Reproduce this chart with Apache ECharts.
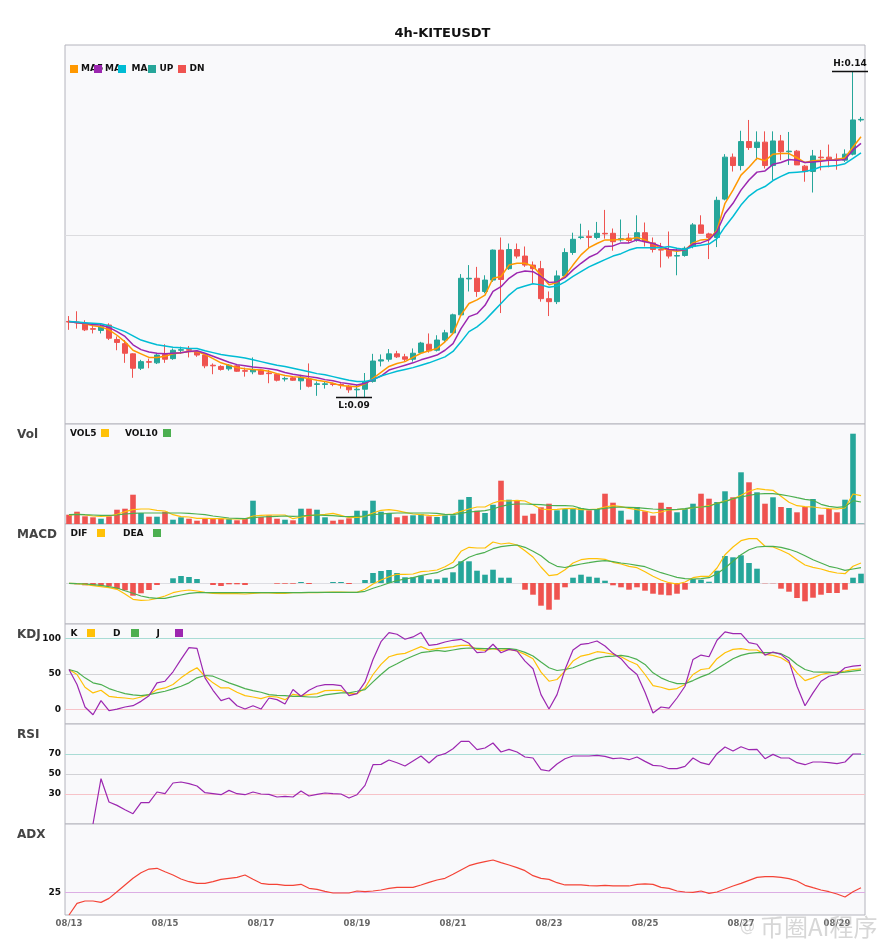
<!DOCTYPE html>
<html>
<head>
<meta charset="utf-8">
<title>4h-KITEUSDT</title>
<script src="https://cdn.jsdelivr.net/npm/echarts@6.0.0/dist/echarts.min.js"></script>
<style>
html, body { margin: 0; padding: 0; background: #fff; }
#chart { width: 885px; height: 950px; }
</style>
</head>
<body>
<div id="chart"></div>
<script>
// 4h candles, 08/13 00:00 -> 08/29 12:00
var days = ['08/13','08/14','08/15','08/16','08/17','08/18','08/19','08/20','08/21','08/22','08/23','08/24','08/25','08/26','08/27','08/28','08/29'];
var hours = ['00:00','04:00','08:00','12:00','16:00','20:00'];
var candleCount = 100;

var opens = [.1056,.1055,.1052,.1044,.1041,.1050,.1026,.1019,.1002,.0978,
  .0989,.0987,.1001,.0994,.1008,.1009,.1006,.1000,.0983,.0981,
  .0977,.0982,.0974,.0972,.0975,.0970,.0968,.0960,.0962,.0957,
  .0960,.0951,.0951,.0952,.0951,.0948,.0942,.0943,.0956,.0990,
  .0993,.1002,.0997,.0993,.1004,.1018,.1008,.1025,.1037,.1067,
  .1127,.1128,.1106,.1125,.1175,.1144,.1176,.1165,.1150,.1144,
  .1094,.1089,.1132,.1171,.1196,.1198,.1196,.1203,.1203,.1192,
  .1195,.1192,.1204,.1187,.1176,.1176,.1165,.1166,.1181,.1217,
  .1202,.1196,.1260,.1330,.1316,.1356,.1346,.1355,.1316,.1357,
  .1339,.1340,.1315,.1306,.1330,.1330,.1327,.1325,.1335,.1392];
var closes = [.1055,.1054,.1042,.1043,.1047,.1028,.1021,.1003,.0978,.0989,
  .0988,.1000,.0993,.1008,.1009,.1008,.1000,.0982,.0982,.0976,
  .0983,.0973,.0973,.0976,.0968,.0969,.0958,.0961,.0958,.0963,
  .0948,.0952,.0952,.0951,.0950,.0942,.0943,.0956,.0990,.0992,
  .1002,.0997,.0993,.1003,.1020,.1007,.1025,.1037,.1067,.1128,
  .1128,.1106,.1125,.1175,.1126,.1176,.1165,.1150,.1144,.1094,
  .1089,.1132,.1171,.1193,.1197,.1196,.1203,.1202,.1189,.1194,
  .1191,.1204,.1189,.1176,.1175,.1165,.1166,.1178,.1217,.1203,
  .1196,.1258,.1330,.1316,.1356,.1346,.1355,.1316,.1357,.1339,
  .1340,.1317,.1306,.1332,.1329,.1325,.1326,.1335,.1392,.1393];
var lows = [.1042,.1044,.1040,.1036,.1036,.1025,.1008,.0987,.0962,.0975,
  .0978,.0985,.0987,.0992,.1002,.0996,.0997,.0978,.0968,.0974,
  .0974,.0972,.0964,.0968,.0967,.0953,.0956,.0956,.0957,.0942,
  .0946,.0932,.0944,.0948,.0944,.0937,.0929,.0930,.0954,.0981,
  .0989,.0995,.0989,.0989,.1003,.1004,.1006,.1022,.1036,.1065,
  .1106,.1097,.1103,.1122,.1070,.1142,.1161,.1147,.1119,.1089,
  .1065,.1085,.1129,.1167,.1193,.1178,.1193,.1194,.1174,.1189,
  .1187,.1189,.1181,.1171,.1146,.1161,.1133,.1164,.1178,.1203,
  .1160,.1180,.1258,.1306,.1308,.1342,.1325,.1311,.1292,.1325,
  .1317,.1317,.1289,.1271,.1308,.1313,.1309,.1322,.1333,.1389];
var highs = [.1065,.1073,.1058,.1050,.1052,.1053,.1031,.1025,.1003,.0992,
  .0994,.1003,.1018,.1011,.1014,.1015,.1008,.1001,.0986,.0983,
  .0985,.0983,.0979,.0996,.0976,.0975,.0969,.0964,.0964,.0967,
  .0986,.0956,.0956,.0954,.0953,.0950,.0950,.0970,.1002,.1001,
  .1010,.1007,.1002,.1011,.1022,.1036,.1033,.1042,.1069,.1135,
  .1150,.1147,.1133,.1176,.1196,.1186,.1186,.1181,.1156,.1157,
  .1106,.1141,.1178,.1204,.1219,.1208,.1222,.1242,.1211,.1226,
  .1203,.1233,.1221,.1196,.1187,.1206,.1178,.1181,.1220,.1233,
  .1204,.1264,.1335,.1336,.1374,.1392,.1373,.1373,.1373,.1367,
  .1372,.1342,.1317,.1342,.1342,.1351,.1336,.1343,.1473,.1397];

var ma5 = [.1056,.1054,.1052,.1049,.1047,.1042,.1033,.1022,.1008,.1002,
  .0996,.0996,.0998,.1002,.1004,.1006,.1006,.1001,.0994,.0987,
  .0983,.0979,.0977,.0976,.0975,.0973,.0969,.0966,.0964,.0963,
  .0961,.0958,.0956,.0953,.0949,.0948,.0947,.0952,.0961,.0971,
  .0981,.0986,.0989,.0996,.1003,.1007,.1011,.1022,.1036,.1067,
  .1086,.1092,.1100,.1128,.1131,.1150,.1153,.1153,.1148,.1133,
  .1117,.1121,.1132,.1150,.1167,.1179,.1186,.1192,.1192,.1193,
  .1193,.1196,.1192,.1185,.1178,.1175,.1173,.1175,.1187,.1192,
  .1193,.1208,.1253,.1275,.1300,.1313,.1328,.1324,.1335,.1336,
  .1336,.1329,.1321,.1324,.1325,.1325,.1326,.1329,.1347,.1364];
var ma10 = [.1056,.1054,.1053,.1051,.1050,.1046,.1039,.1031,.1017,.1009,
  .1005,.1003,.1002,.1003,.1004,.1006,.1007,.1003,.0998,.0993,
  .0988,.0984,.0982,.0980,.0979,.0977,.0975,.0971,.0968,.0966,
  .0964,.0962,.0959,.0957,.0954,.0952,.0950,.0953,.0959,.0965,
  .0975,.0979,.0983,.0987,.0992,.0996,.1000,.1008,.1019,.1044,
  .1064,.1069,.1083,.1106,.1114,.1128,.1137,.1140,.1139,.1131,
  .1121,.1122,.1129,.1142,.1153,.1163,.1169,.1181,.1182,.1187,
  .1187,.1192,.1189,.1186,.1181,.1176,.1175,.1175,.1185,.1187,
  .1192,.1206,.1236,.1253,.1275,.1292,.1305,.1307,.1318,.1321,
  .1326,.1325,.1321,.1322,.1323,.1325,.1325,.1326,.1342,.1353];
var ma20 = [.1056,.1055,.1054,.1053,.1052,.1049,.1044,.1039,.1032,.1025,
  .1021,.1017,.1015,.1013,.1012,.1011,.1011,.1007,.1004,.1001,
  .0999,.0997,.0995,.0992,.0989,.0986,.0983,.0981,.0978,.0975,
  .0972,.0969,.0967,.0964,.0961,.0958,.0956,.0956,.0959,.0965,
  .0969,.0973,.0976,.0979,.0983,.0987,.0992,.0997,.1006,.1022,
  .1039,.1047,.1058,.1072,.1086,.1100,.1111,.1115,.1119,.1117,
  .1113,.1115,.1122,.1131,.1139,.1147,.1153,.1159,.1165,.1169,
  .1175,.1179,.1179,.1179,.1179,.1181,.1178,.1176,.1181,.1183,
  .1185,.1194,.1214,.1231,.1250,.1265,.1275,.1281,.1291,.1298,
  .1304,.1305,.1306,.1309,.1314,.1315,.1316,.1319,.1328,.1337];

// volume (arbitrary units)
var vol = [9.3,12.3,7.7,6.7,5.3,7.7,14.3,15.3,29.3,11,
  7.3,7.3,12.3,4.3,6.7,5.3,3.3,5.7,5.3,5.3,
  5,3.7,5,23.3,7,8.7,5.3,4.3,3.7,15.3,
  15.3,14.3,6.7,3.3,4.3,5.7,13.3,13.3,23.3,12.3,
  11,6.7,8.3,8.7,10,7.7,7,8.7,8.7,24.3,
  27,13.3,11,19.3,43.3,24.3,23.7,8.3,10.3,16.7,
  20.3,13.7,15,16,16,13.7,15,30.3,21.3,13.3,
  4.3,17,12.7,8.3,21.3,17,11.7,15,20.3,30.3,
  25.3,22,32.7,26.7,51.7,41.7,31.7,20.3,26.7,17,
  16,11.7,17,25,9.3,15,11.7,24.3,90.3,0.3];
var vol5 = [8.7,10,9,8,7.7,8,9.7,12.3,14.3,15,
  15,13.7,13,9.3,7.3,7,5.7,5.7,5.3,5.3,
  5,5,5,8,8.7,9,9,9,5.3,7,
  8.3,9,9.7,10.7,8.7,6.3,6.7,7.7,11,13.7,
  14.3,13.3,11.7,10,9.3,8.7,8.3,9.3,10,12.7,
  15,17,17,21,23.3,23,23.7,23,19.3,15,
  14.3,14.7,15.3,15.7,14.3,14.3,15,17,18.3,17.3,
  15.7,14.3,13,11,12,14,14.3,15,16.3,17,
  18.3,20.7,23,25,28.7,32.7,35.3,34.3,33.7,27.7,
  21.7,18.3,17.3,17,16,15.3,15,16,30,28.3];
var vol10 = [9.3,9.7,9.3,9,8.7,8.7,9,10,10.7,11,
  11,11,11,11,11,10.7,10,9.3,8,7,
  6,5.7,5.3,6.3,7,7.3,7.7,8,7.7,8,
  8.7,9,8.7,8.3,7.7,7.3,7.7,8,9.3,10,
  10.7,11,11,11,11,11,10.7,9.7,9.3,10.7,
  12,12.7,13.3,15,17.7,19.3,20,20,19.7,19.3,
  18.7,18.3,18.3,18,15.7,14.3,14.7,15.7,16.7,17,
  16.7,16.3,15.7,15,14.7,14.3,14.7,15.3,16.7,17,
  17.7,20.7,22.3,25.3,27,28.7,30,30.3,30.3,29.3,
  28,26.3,24.7,23.7,19.7,17.7,16.7,17.3,23.3,22];

// MACD values in units of 1e-4 USDT
var dif = [-0.3,-0.7,-1.3,-2.7,-3.7,-4.7,-6.3,-11,-16.3,-17.3,
  -17,-15.3,-13,-9.7,-8,-7,-8,-9.3,-10.3,-10.7,
  -10.7,-10.7,-11,-10.3,-10,-10,-10.3,-10.3,-9.7,-9.7,
  -9.7,-9.7,-9.3,-9,-9,-9.3,-9.3,-6.3,-1,3,
  6.3,8.7,8.7,9,11.3,12,13,16.3,20.7,31.7,
  35.7,35,35,41,39,40,38,32.3,26,16,
  7.3,8.3,13.3,20,23.3,24.3,24.3,23.7,20.7,19,
  16.7,15.3,11.3,6.7,3,0.3,-1,1,5.3,6.7,
  6.7,15,28.3,36,42.3,44.3,44.3,36.7,36,32.7,
  29,23.3,18,15.7,14,11.7,10,9.3,16.7,20];
var dea = [-0.3,-0.7,-1,-1.7,-2.3,-3.7,-5,-7.7,-10.3,-13,
  -14.7,-15.3,-15.3,-13.7,-12,-10.3,-9.7,-9.7,-9.7,-9.7,
  -9.7,-9.7,-9.7,-9.7,-9.7,-9.7,-9.7,-9.7,-9.7,-9.7,
  -9.3,-9.3,-9.3,-9.3,-9.3,-9.3,-9.3,-8.3,-5.3,-2.7,
  0,2.3,4,5.3,7.3,9,10.3,13.7,15.3,20.7,
  25.7,28.7,30.7,34.3,36.3,37.3,38,35.7,31.8,27.3,
  20.7,16.7,15.5,17.3,19,20.3,21.7,22.3,21.3,20,
  19,17.7,16.3,13.3,10.3,8,5.7,4.3,4,4.3,
  5.3,9.3,15,21.7,28.3,33.3,36,36.7,36.7,35.7,
  33.7,31,27.3,23.3,20,16.7,15,12.7,14,15.3];
var macd = [0,-1.3,-2.3,-2.7,-2.7,-3.3,-6,-7.3,-12.7,-10.3,
  -7,-2,0,4.7,7,6,4,0,-2,-3,
  -1.3,-1.3,-2,0,0,0,-0.7,-0.7,-0.7,1,
  -1,0,0,1,1,-1,0,3,10,12,
  13,10,5.7,5.7,7.3,3.7,3.7,5.3,10.7,21.7,
  21.7,12.3,8.3,13.3,5.3,5.3,0,-6.7,-11.7,-22.7,
  -26.7,-16.7,-4.3,5.3,8.3,6.3,5.3,2.3,-2.3,-4.3,
  -6.7,-4.3,-7.7,-10.7,-11.7,-12.3,-10.7,-6.7,4,3.3,
  1.3,12.3,27,25.7,27.7,20,14.3,-0.3,-0.3,-5.7,
  -8.7,-15,-18.3,-14.7,-11.7,-10,-10,-6.7,5.3,9.3];

var kLine = [56.3,49.3,31.5,23.5,27.2,18.8,17.4,16.4,15.0,17.8,
  21.1,28.2,30.5,35.2,44.6,52.6,58.7,46.9,37.6,30.5,
  30.5,24.4,19.7,17.8,15.5,18.8,17.8,14.1,21.6,19.7,
  21.1,22.5,26.8,27.2,27.2,22.5,22.5,30.5,49.3,63.4,
  74.2,77.5,78.9,83.6,88.3,83.6,85.4,86.9,88.3,90.1,
  90.1,84.5,83.1,85.4,83.1,84.5,82.2,77.5,71.4,52.6,
  39.9,42.3,54.0,68.1,75.1,77.5,81.2,79.8,77.5,74.2,
  68.1,63.4,49.3,33.8,31.5,28.2,29.6,35.2,49.3,56.3,
  57.7,71.4,79.8,84.5,85.4,83.6,83.6,77.5,76.1,72.8,
  65.7,51.6,40.8,44.6,49.3,51.6,52.6,54.0,56.3,57.3];
var dLine = [56.3,53.1,44.6,37.6,35.2,29.6,25.8,22.5,20.7,19.7,
  21.1,23.5,25.8,29.1,32.9,37.6,44.6,47.9,46.9,42.3,
  37.6,33.8,29.6,26.8,24.4,21.1,20.2,19.7,18.8,18.8,
  17.8,17.8,20.7,22.1,23.5,23.5,25.8,28.2,39.0,49.3,
  58.7,64.3,70.4,75.1,79.8,81.2,83.1,81.7,83.6,85.4,
  86.4,85.9,85.4,85.4,85.4,85.4,84.0,80.3,75.1,66.7,
  58.7,54.9,56.3,58.7,63.4,68.1,71.8,74.2,75.1,76.1,
  74.2,70.4,63.4,51.6,44.6,39.9,36.6,36.6,40.8,46.0,
  50.2,57.3,64.3,71.4,76.1,78.9,79.8,79.8,79.8,78.4,
  72.8,63.4,56.3,53.1,52.6,52.6,51.6,52.6,54.0,55.4];
var jLine = [56.3,35.2,3.8,-7.0,12.7,-1.4,0.9,3.8,5.6,11.7,
  19.7,37.6,39.9,53.1,70.4,86.9,85.9,44.6,27.2,12.7,
  16.4,5.6,0.9,5.6,0.9,16.4,14.1,8.0,28.2,18.8,
  27.2,32.9,35.2,35.2,33.8,19.7,22.5,38.5,70.4,95.3,
  108.0,105.6,98.6,101.9,108.0,90.1,91.5,94.8,97.2,98.6,
  93.0,79.8,80.8,91.6,79.8,84.5,82.2,68.1,57.3,21.1,
  0.9,21.1,56.3,83.6,91.6,93.0,96.2,89.2,78.9,71.4,
  58.7,49.3,24.4,-4.7,3.8,2.3,16.4,32.9,70.4,76.5,
  74.2,97.2,108.9,106.6,106.6,93.9,91.6,76.5,80.8,77.5,
  68.1,32.9,5.6,23.5,39.9,46.9,49.3,58.7,61.0,62.0];

var rsi = [null,null,null,0,45.3,22,18.6,14.3,10.3,21.3,
  21.3,32,30.3,41,42,40.3,38,31.3,30.3,29.3,
  33.6,30.3,29.3,32,30,29.6,27,27.6,27,33,
  28,29.6,31,30.3,30,26,29.3,38.6,59.3,59.6,
  64,61.3,58,63,68,61,68,70.3,75.3,82.6,
  82.6,74.3,76,81,72,74.6,72,67,66,54.3,
  53,60,65.3,68,68,68,68.6,67.6,65.3,66,
  64.3,67,62.6,58.6,58,55.3,55.3,57.6,66,61.3,
  59.3,70.3,77,73,77.3,74.3,74.6,65.3,69.6,66,
  66,61.3,59.3,62,62,61.3,60.3,62,70,70];
var adx = [0,12.8,15.4,15.4,13.9,18.3,25.6,33,40.3,46.5,
  50.5,51.3,47.6,44,39.6,36.6,34.8,34.8,36.6,39.2,
  40.3,41.4,44,39.2,34.8,33.7,33.7,32.6,32.6,33.7,
  29.3,28.2,26,24.2,24.2,24.2,26.4,25.6,26.4,27.5,
  29.3,30.4,30.4,30.4,33,35.9,38.5,40.3,44.7,49.5,
  54.2,56.8,58.6,60.4,57.5,54.9,52,48.7,43.2,40.3,
  39.2,35.5,33,33,33,32.2,31.9,32.6,31.9,31.9,
  31.9,33.7,34.1,33.7,30.4,29.3,26.4,25.3,24.9,26.4,
  23.8,25.3,28.6,31.9,34.8,38.1,41.4,42.1,42.1,41.4,
  39.9,37.4,32.6,30,27.5,25.6,23.1,19.8,25.6,30];

var kdjTicks = [0, 50, 100];
var rsiTicks = [30, 50, 70];
var adxTicks = [25];

var UP = '#26a69a', DN = '#ef5350';
var FONT = 'DejaVu Sans';

var categories = [];
days.forEach(function (d) {
  hours.forEach(function (h) { categories.push(d + ' ' + h); });
});
categories = categories.slice(0, candleCount);

var candleData = opens.map(function (o, i) { return [o, closes[i], lows[i], highs[i]]; });

// highest high / lowest low markers
var hiIdx = 0, loIdx = 0;
for (var i = 1; i < highs.length; i++) {
  if (highs[i] > highs[hiIdx]) hiIdx = i;
  if (lows[i] < lows[loIdx]) loIdx = i;
}
function cut2(v) { return (Math.floor(v * 100) / 100).toFixed(2); }

var volData = vol.map(function (v, i) {
  return { value: v, itemStyle: { color: closes[i] >= opens[i] ? UP : DN } };
});
var macdData = macd.map(function (v) {
  return { value: v, itemStyle: { color: v >= 0 ? UP : DN } };
});

var gridBase = { left: 65, width: 800, show: true, backgroundColor: '#f9f9fb', borderColor: '#b4b4bd', borderWidth: 1 };
var grids = [
  Object.assign({}, gridBase, { top: 45, height: 379 }),
  Object.assign({}, gridBase, { top: 424, height: 100 }),
  Object.assign({}, gridBase, { top: 524, height: 100 }),
  Object.assign({}, gridBase, { top: 624, height: 100 }),
  Object.assign({}, gridBase, { top: 724, height: 100 }),
  Object.assign({}, gridBase, { top: 824, height: 91 })
];

var xAxes = grids.map(function (g, idx) {
  return {
    type: 'category', gridIndex: idx, data: categories, boundaryGap: true,
    axisLine: { show: false }, axisTick: { show: false }, splitLine: { show: false },
    axisLabel: idx === 5 ? {
      show: true, interval: 11, margin: 4, color: '#666', fontWeight: 'bold', fontSize: 8.5, fontFamily: FONT,
      formatter: function (v) { return v.slice(0, 5); }
    } : { show: false }
  };
});

function yAxis(idx, min, max, ticks) {
  return {
    type: 'value', gridIndex: idx, min: min, max: max,
    axisLine: { show: false }, axisTick: { show: false }, splitLine: { show: false },
    axisLabel: ticks ? {
      show: true, customValues: ticks, margin: 4, color: '#111', fontWeight: 'bold', fontSize: 9, fontFamily: FONT
    } : { show: false }
  };
}

function refLines(items) {
  return {
    silent: true, symbol: ['none', 'none'], z: 1, label: { show: false },
    data: items.map(function (it) {
      return { yAxis: it[0], lineStyle: { color: it[1], width: 1, type: 'solid' } };
    })
  };
}

function line(name, data, color, idx, width) {
  return {
    name: name, type: 'line', data: data, xAxisIndex: idx, yAxisIndex: idx,
    symbol: 'none', lineStyle: { color: color, width: width || 1.3 }, itemStyle: { color: color },
    z: 3, silent: true
  };
}

function txt(x, y, s, font, fill, z) {
  return { type: 'text', x: x, y: y, z: z || 100, style: { text: s, font: font, fill: fill, verticalAlign: 'middle' } };
}
function box(x, y, color) {
  return { type: 'rect', z: 101, shape: { x: x, y: y - 4, width: 8, height: 8 }, style: { fill: color } };
}
var LF = 'bold 9px "DejaVu Sans"';
var PF = 'bold 12px "DejaVu Sans"';

var graphics = [
  txt(17, 435, 'Vol', PF, '#444'),
  txt(17, 535, 'MACD', PF, '#444'),
  txt(17, 635, 'KDJ', PF, '#444'),
  txt(17, 735, 'RSI', PF, '#444'),
  txt(17, 835, 'ADX', PF, '#444'),
  // main legend
  box(70, 69, '#ff9800'), txt(81, 69, 'MA5', LF, '#111'),
  box(94, 69, '#9c27b0'),
  { type: 'text', x: 105, y: 69, z: 100, style: { text: 'MA10', font: LF, fill: '#111', verticalAlign: 'middle', width: 17, overflow: 'truncate', ellipsis: '' } },
  box(118, 69, '#00bcd4'),
  { type: 'text', x: 131.5, y: 69, z: 100, style: { text: 'MA20', font: LF, fill: '#111', verticalAlign: 'middle', width: 17, overflow: 'truncate', ellipsis: '' } },
  box(148, 69, UP), txt(159.5, 69, 'UP', LF, '#111'),
  box(178, 69, DN), txt(189.5, 69, 'DN', LF, '#111'),
  // vol legend
  txt(70, 434, 'VOL5', LF, '#111'), box(101, 433, '#ffc107'),
  txt(125, 434, 'VOL10', LF, '#111'), box(163, 433, '#4caf50'),
  // macd legend
  txt(70.5, 534, 'DIF', LF, '#111'), box(97, 533, '#ffc107'),
  txt(123, 534, 'DEA', LF, '#111'), box(153, 533, '#4caf50'),
  // kdj legend
  txt(70.5, 634, 'K', LF, '#111'), box(87, 633, '#ffc107'),
  txt(113, 634, 'D', LF, '#111'), box(131, 633, '#4caf50'),
  txt(156.5, 634, 'J', LF, '#111'), box(175, 633, '#9c27b0'),
  // watermark
  txt(740, 927, '@', '15px "DejaVu Sans"', 'rgba(170,170,170,0.45)', 110),
  txt(760, 927, '币圈AI程序', '24px "Noto Sans CJK SC"', 'rgba(175,175,175,0.5)', 110)
];

var option = {
  animation: false,
  backgroundColor: '#fff',
  title: {
    text: '4h-KITEUSDT', left: 'center', top: 22,
    textStyle: { fontFamily: FONT, fontWeight: 'bold', fontSize: 13, color: '#111' }
  },
  textStyle: { fontFamily: FONT },
  grid: grids,
  xAxis: xAxes,
  yAxis: [
    yAxis(0, 0.0885, 0.1517),
    yAxis(1, 0, 100),
    yAxis(2, -41, 59),
    yAxis(3, -20, 120, kdjTicks),
    yAxis(4, 0, 100, rsiTicks),
    yAxis(5, 0, 100, adxTicks)
  ],
  graphic: graphics,
  series: [
    {
      name: 'KITEUSDT', type: 'candlestick', data: candleData, xAxisIndex: 0, yAxisIndex: 0,
      barWidth: '70%', silent: true,
      itemStyle: { color: UP, color0: DN, borderColor: UP, borderColor0: DN, borderWidth: 1 },
      markLine: refLines([[0.12, '#dcdcdf']]),
      markPoint: {
        silent: true, symbol: 'rect', symbolSize: [36, 1.5], symbolOffset: [-3, 0],
        itemStyle: { color: '#111' },
        data: [
          { coord: [hiIdx, highs[hiIdx]], label: { show: true, position: 'top', distance: 2, formatter: 'H:' + cut2(highs[hiIdx]), color: '#111', fontWeight: 'bold', fontSize: 9, fontFamily: FONT } },
          { coord: [loIdx, lows[loIdx]], label: { show: true, position: 'bottom', distance: 3, formatter: 'L:' + cut2(lows[loIdx]), color: '#111', fontWeight: 'bold', fontSize: 9, fontFamily: FONT } }
        ]
      }
    },
    line('MA5', ma5, '#ff9800', 0, 1.5),
    line('MA10', ma10, '#9c27b0', 0, 1.5),
    line('MA20', ma20, '#00bcd4', 0, 1.5),

    { name: 'Vol', type: 'bar', data: volData, xAxisIndex: 1, yAxisIndex: 1, barWidth: '70%', silent: true },
    line('VOL5', vol5, '#ffc107', 1, 1.2),
    line('VOL10', vol10, '#4caf50', 1, 1.2),

    { name: 'MACD', type: 'bar', data: macdData, xAxisIndex: 2, yAxisIndex: 2, barWidth: '70%', silent: true,
      markLine: refLines([[0, '#dddde2']]) },
    line('DIF', dif, '#ffc107', 2, 1.2),
    line('DEA', dea, '#4caf50', 2, 1.2),

    Object.assign(line('K', kLine, '#ffc107', 3, 1.2), {
      markLine: refLines([[0, '#f7c3c8'], [50, '#d2d2d6'], [100, '#a9dcd5']])
    }),
    line('D', dLine, '#4caf50', 3, 1.2),
    line('J', jLine, '#9c27b0', 3, 1.2),

    Object.assign(line('RSI', rsi, '#9c27b0', 4, 1.2), {
      markLine: refLines([[30, '#f7c3c8'], [50, '#d2d2d6'], [70, '#a9dcd5']])
    }),

    Object.assign(line('ADX', adx, '#f44336', 5, 1.2), {
      markLine: refLines([[25, '#dcaee4']])
    })
  ]
};

var myChart = echarts.init(document.getElementById('chart'), null, { renderer: 'canvas' });
myChart.setOption(option);
window.addEventListener('resize', myChart.resize);
</script>
</body>
</html>
